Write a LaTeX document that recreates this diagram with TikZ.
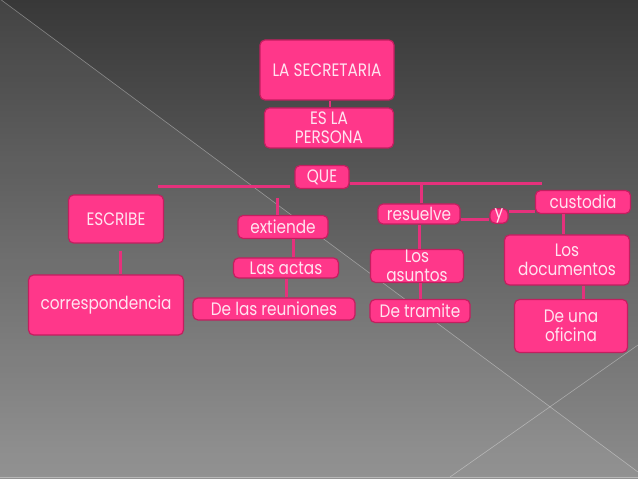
\documentclass[tikz,border=0pt]{standalone}
\usepackage{fontspec}
\setmainfont{Poppins}[FakeStretch=0.85]
\usepackage{tikz}

\definecolor{pinkfill}{RGB}{255,55,138}
\definecolor{pinkline}{RGB}{195,30,95}
\definecolor{pinktext}{RGB}{255,228,240}

\begin{document}
\begin{tikzpicture}[x=1pt,y=1pt,
box/.style={draw=pinkline,line width=1.2pt,fill=pinkfill,rounded corners=5pt,text=pinktext,align=center,inner sep=0pt,font=\fontsize{18}{19}\selectfont},
link/.style={draw=pinkfill!90!black,line width=3pt},
deco/.style={white,opacity=.35,line width=.6pt}
]
\shade[top color=black!78,bottom color=black!45] (0,0) rectangle (638,479);
\useasboundingbox (0,0) rectangle (638,479);
\fill[white,opacity=.06] (0,479) -- (0,0) -- (638,0) -- (638,7) -- (0,480) -- cycle;
\draw[deco] (0,480) -- (638,7);
\draw[deco] (450,2) -- (638,134);
\draw[deco] (0,2) -- (638,2);

\node[box,minimum width=134pt,minimum height=60pt] (sec) at (327,409) {LA SECRETARIA};
\node[box,minimum width=129pt,minimum height=40pt] (per) at (329,351) {ES LA\\PERSONA};
\node[box,minimum width=54pt,minimum height=23pt] (que) at (322,302) {QUE};
\node[box,minimum width=95pt,minimum height=48pt] (esc) at (116,260) {ESCRIBE};
\node[box,minimum width=155pt,minimum height=60pt] (corr) at (106,174) {correspondencia};
\node[box,minimum width=90pt,minimum height=23pt] (ext) at (283,252) {extiende};
\node[box,minimum width=105pt,minimum height=20pt] (actas) at (286,211) {Las actas};
\node[box,minimum width=162pt,minimum height=22pt] (reun) at (274,170) {De las reuniones};
\node[box,minimum width=82pt,minimum height=20pt] (res) at (419,265) {resuelve};
\node[box,minimum width=18pt,minimum height=14pt] (ybox) at (499,263) {y};
\node[box,minimum width=95pt,minimum height=23pt] (cus) at (583,277) {custodia};
\node[box,minimum width=93pt,minimum height=33pt] (asun) at (417,213) {Los\\asuntos};
\node[box,minimum width=100pt,minimum height=23pt] (tram) at (420,168) {De tramite};
\node[box,minimum width=125pt,minimum height=50pt] (doc) at (567,219) {Los\\documentos};
\node[box,minimum width=113pt,minimum height=53pt] (ofi) at (571,153) {De una\\oficina};

\coordinate (barL) at (158,292);
\coordinate (barLe) at (290,292);
\coordinate (barR) at (542,295);
\draw[link,line width=1.5pt] ([xshift=3pt]sec.south) -- ([xshift=3pt]sec.south |- per.north);
\draw[link] (barL) -- (barLe);
\draw[link] (que.east |- barR) -- (barR);
\draw[link] ([xshift=4pt,yshift=-7pt]esc.south) -- ([xshift=4pt]esc.south |- corr.north);
\draw[link] ([xshift=-6pt]ext.north) -- ([xshift=-6pt,yshift=17pt]ext.north);
\draw[link] ([xshift=10pt]ext.south) -- ([xshift=10pt]ext.south |- actas.north);
\draw[link] (actas.south) -- (actas.south |- reun.north);
\draw[link] ([xshift=2pt]res.north) -- ([xshift=2pt]res.north |- barR);
\draw[link] ([yshift=-6pt]res.east) -- ([yshift=-6pt]res.east -| ybox.west);
\draw[link] ([yshift=4pt]ybox.east) -- ([yshift=4pt]ybox.east -| cus.west);
\draw[link] (res.south) -- (res.south |- asun.north);
\draw[link] (tram.north) -- (tram.north |- asun.south);
\draw[link] ([xshift=-4pt]doc.north) -- ([xshift=-4pt]doc.north |- cus.south);
\draw[link] ([xshift=16pt]doc.south) -- ([xshift=16pt]doc.south |- ofi.north);
\end{tikzpicture}
\end{document}
